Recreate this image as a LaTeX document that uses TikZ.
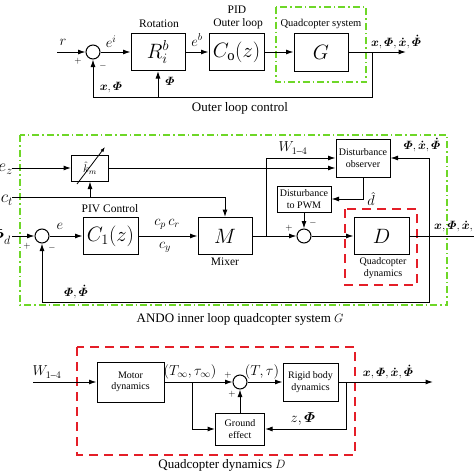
\documentclass[tikz,border=0pt]{standalone}
\usepackage{amsmath,amssymb}
\usepackage{fontspec}
\setmainfont{Liberation Serif}
\usetikzlibrary{arrows.meta,calc}
\newcommand{\vPhi}{\boldsymbol{\varPhi}}
\newcommand{\vx}{\boldsymbol{x}}
\newcommand{\vxd}{\boldsymbol{\dot x}}
\newcommand{\vPhid}{\boldsymbol{\dot\varPhi}}
\definecolor{greenx}{RGB}{110,215,40}
\definecolor{redx}{RGB}{228,30,40}
\tikzset{
  blk/.style={draw, line width=1pt, inner sep=1pt, align=center},
  bigf/.style={font=\fontsize{21}{24}\selectfont},
  smallbox/.style={font=\fontsize{10}{11.5}\selectfont},
  sumc/.style={draw, circle, minimum size=14pt, inner sep=0pt, line width=1pt},
  arr/.style={-{Latex[length=7.5pt,width=5pt]}, line width=1pt},
  grn/.style={draw=greenx, dash pattern=on 7pt off 3pt on 1.5pt off 3pt, line width=1.6pt},
  redb/.style={draw=redx, dash pattern=on 9pt off 6pt, line width=1.6pt},
  lbl/.style={font=\fontsize{11.5}{13}\selectfont, inner sep=0pt},
  captxt/.style={font=\fontsize{13}{15}\selectfont, inner sep=0pt},
  mlab/.style={font=\fontsize{14}{16}\selectfont, inner sep=0pt},
  edgelab/.style={font=\fontsize{18}{20}\selectfont, inner sep=0pt, anchor=east},
  vlab/.style={font=\fontsize{12.5}{14}\selectfont, inner sep=0pt},
  sgn/.style={font=\fontsize{9}{10}\selectfont, inner sep=0pt}
}
\begin{document}
\begin{tikzpicture}[x=1pt,y=-1pt]
\useasboundingbox (0,0) rectangle (474,474);

% ================= TOP: outer loop =================
\node[sumc] (s1) at (93,52) {};
\node[blk, bigf, minimum width=54pt, minimum height=37pt] (Rb) at (158,52) {$R_i^b$};
\node[blk, bigf, minimum width=55pt, minimum height=37pt] (Co) at (236.5,52) {$C_{\mathrm{o}}(z)$};
\node[blk, bigf, minimum width=54pt, minimum height=38pt] (G) at (321,52) {$G$};
\draw[grn] (276,7) rectangle (366,82);

\coordinate (rin) at (57,52);
\coordinate (yout) at (406,52);
\coordinate (fbA) at (372,52);
\coordinate (fbB) at (93,97);
\coordinate (fbC) at (158,97);

\draw[arr] (rin) -- (s1);
\draw[arr] (s1) -- (Rb);
\draw[arr] (Rb) -- (Co);
\draw[arr] (Co) -- (G);
\draw[arr] (G) -- (yout);
\draw[arr] (fbA) |- (fbB) -- (s1);
\draw[arr] (fbC) -- (Rb);

\node[mlab] (lr) at (63,42) {$r$};
\node[sgn] (lp1) at (78,61) {$+$};
\node[sgn] (lm1) at (103,66) {$-$};
\node[mlab] (lei) at (111,42) {$e^i$};
\node[lbl] (lrot) at (159,24) {Rotation};
\node[mlab] (leb) at (197,40) {$e^b$};
\node[lbl] (lpid) at (237,10) {PID};
\node[lbl] (lol) at (238,24) {Outer loop};
\node[font=\fontsize{10.5}{12}\selectfont, inner sep=0pt] (lqs) at (321,24) {Quadcopter system};
\node[vlab] (ly1) at (396,42) {$\vx,\vPhi,\vxd,\vPhid$};
\node[vlab] (lphi1) at (170,81) {$\vPhi$};
\node[vlab] (lxphi1) at (111,88) {$\vx,\vPhi$};
\node[captxt] (lolc) at (240,108) {Outer loop control};

% ================= MIDDLE: ANDO inner loop =================
\draw[grn] (20,135) rectangle (447,305);
\draw[redb] (345,209) rectangle (417,285);

\node[blk, minimum width=37pt, minimum height=26pt] (km) at (90,168) {};
\node[font=\fontsize{11}{12}\selectfont, inner sep=0pt] (kml) at (90,168) {$\hat{k}_m$};
\draw[arr, line width=0.8pt, -{Latex[length=5pt,width=3.5pt]}] ($(km.center)+(-13,16)$) -- ($(km.center)+(15,-21)$);

\node[sumc] (s0) at (42,236) {};
\node[blk, bigf, minimum width=55pt, minimum height=37pt] (C1) at (110.5,236) {$C_1(z)$};
\node[blk, bigf, minimum width=54pt, minimum height=37pt] (M) at (225,236) {$M$};
\node[sumc] (s2) at (304,236) {};
\node[blk, smallbox, minimum width=54pt, minimum height=26pt] (pwm) at (304,199) {Disturbance\\to PWM};
\node[blk, smallbox, minimum width=54pt, minimum height=38pt] (obs) at (363,158) {Disturbance\\observer};
\node[blk, bigf, minimum width=55pt, minimum height=37pt] (D) at (381.5,236) {$D$};

\coordinate (ezin) at (12,168);
\coordinate (ctin) at (12,197);
\coordinate (kmj) at (90,197);
\coordinate (phin) at (12,236);
\coordinate (brM) at (266,236);
\coordinate (brMt) at (266,158);
\coordinate (fbj) at (429,236);
\coordinate (fbl) at (42,302);
\coordinate (yout2) at (482,236);

\draw[arr] (ezin) -- (km);
\draw[arr] (km) -- (km -| obs.west);
\draw[arr] (ctin) -| (M);
\draw[arr] (kmj) -- (km);
\draw[arr] (phin) -- (s0);
\draw[arr] (s0) -- (C1);
\draw[arr] (C1) -- (M);
\draw[arr] (M) -- (s2);
\draw[arr] (s2) -- (D);
\draw[arr] (D) -- (yout2);
\draw[arr] (brM) -- (brMt) -- (brMt -| obs.west);
\draw[arr] (obs) |- (pwm);
\draw[arr] (pwm) -- (s2);
\draw[arr] (fbj) |- (obs);
\draw[arr] (fbj) |- (fbl) -- (s0);

\node[edgelab] (lez) at (13,169) {$e_z$};
\node[edgelab] (lct) at (13,200) {$c_t$};
\node[edgelab] (lphid) at (11,237) {$\vPhi_d$};
\node[sgn] (lp0) at (27,246) {$+$};
\node[sgn] (lm0) at (52,248) {$-$};
\node[mlab] (le) at (60,226) {$e$};
\node[lbl] (lpiv) at (110,209) {PIV Control};
\node[mlab] (lcpcr) at (167,224) {$c_p\,c_r$};
\node[mlab] (lcy) at (165,247) {$c_y$};
\node[lbl] (lmix) at (225,262) {Mixer};
\node[mlab] (lw1) at (293,148) {$W_{1\text{--}4}$};
\node[mlab] (ldhat) at (371,199) {$\hat{d}$};
\node[sgn] (lp2) at (289,228) {$+$};
\node[sgn] (lm2) at (313,223) {$-$};
\node[vlab] (lobsin) at (422,145) {$\vPhi,\vxd,\vPhid$};
\node[vlab, anchor=west] (ly2) at (434,225) {$\vx,\vPhi,\vxd,\vPhid$};
\node[smallbox, align=center, inner sep=0pt] (lqd) at (383,268) {Quadcopter\\dynamics};
\node[vlab] (lfb2) at (76,292) {$\vPhi,\vPhid$};
\node[captxt] (lando) at (240,319) {ANDO inner loop quadcopter system $G$};

% ================= BOTTOM: quadcopter dynamics D =================
\draw[redb] (77,347) rectangle (355,455);
\node[blk, smallbox, minimum width=67pt, minimum height=40pt] (mot) at (130.5,382) {Motor\\dynamics};
\node[sumc] (s3) at (240,382) {};
\node[blk, smallbox, minimum width=49pt, minimum height=32pt] (gnd) at (240,429) {Ground\\effect};
\node[blk, smallbox, minimum width=55pt, minimum height=38pt] (rig) at (310.5,382) {Rigid body\\dynamics};

\coordinate (win) at (33,382);
\coordinate (brT) at (192,382);
\coordinate (brTb) at (192,429);
\coordinate (fbR) at (346,382);
\coordinate (yout3) at (433,382);

\draw[arr] (win) -- (mot);
\draw[arr] (mot) -- (s3);
\draw[arr] (brT) -- (brTb) -- (gnd);
\draw[arr] (gnd) -- (s3);
\draw[arr] (s3) -- (rig);
\draw[arr] (rig) -- (yout3);
\draw[arr] (fbR) |- (gnd);

\node[mlab] (lw2) at (47,372) {$W_{1\text{--}4}$};
\node[mlab] (ltinf) at (190,372) {$(T_\infty,\tau_\infty)$};
\node[sgn] (lp3) at (228,375) {$+$};
\node[sgn] (lp4) at (232,394) {$+$};
\node[mlab] (lttau) at (262,372) {$(T,\tau)$};
\node[vlab] (ly3) at (388,372) {$\vx,\vPhi,\vxd,\vPhid$};
\node[mlab] (lzphi) at (303,419) {$z,\vPhi$};
\node[captxt] (lqdd) at (222,465) {Quadcopter dynamics $D$};
\end{tikzpicture}
\end{document}
